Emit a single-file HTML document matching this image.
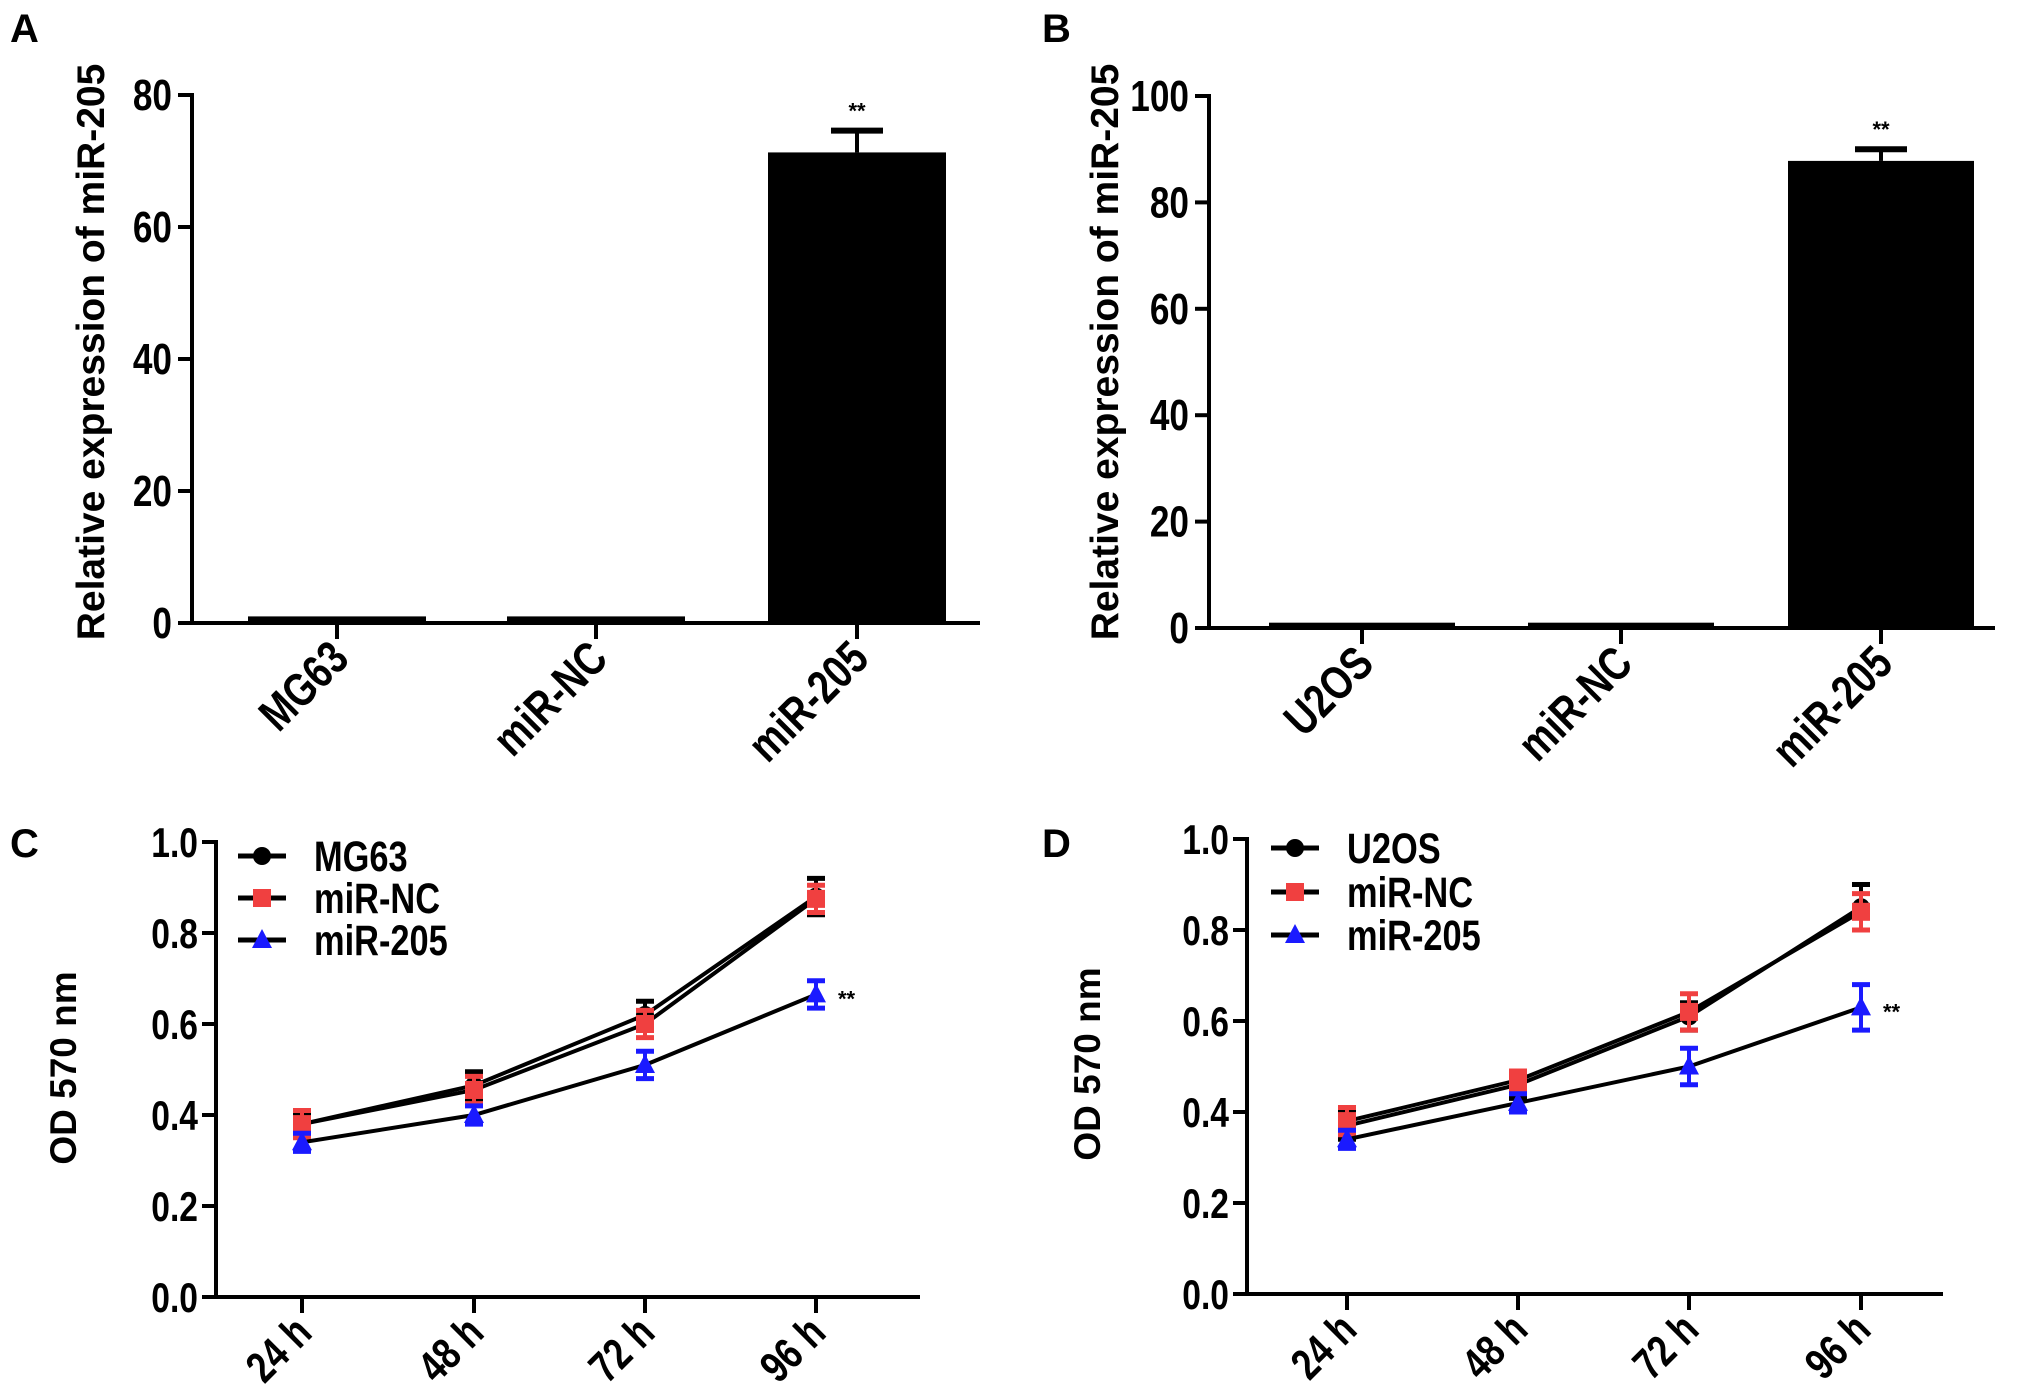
<!DOCTYPE html>
<html><head><meta charset="utf-8"><style>
html,body{margin:0;padding:0;background:#fff;}
svg{display:block;}
text{font-family:"Liberation Sans",Arial,sans-serif;font-weight:bold;fill:#000;}
</style></head><body>
<svg id="fig" width="2031" height="1400" viewBox="0 0 2031 1400" xmlns="http://www.w3.org/2000/svg"></svg>
<script>
const catsA = ["MG63","miR-NC","miR-205"];
const valsA = [1, 1, 71.3];
const errA = [0, 0, 3.3];
const ticksA = [0,20,40,60,80];
const catsB = ["U2OS","miR-NC","miR-205"];
const valsB = [1, 1, 87.8];
const errB = [0, 0, 2.2];
const ticksB = [0,20,40,60,80,100];
const timeCats = ["24 h","48 h","72 h","96 h"];
const ticksLine = [0,0.2,0.4,0.6,0.8,1.0];
const cCtrl = [0.38,0.465,0.62,0.88];
const cCtrlErr = [0.02,0.03,0.03,0.04];
const cNC = [0.38,0.455,0.60,0.875];
const cNCErr = [0.03,0.03,0.03,0.03];
const c205 = [0.34,0.40,0.51,0.665];
const c205Err = [0.02,0.02,0.03,0.03];
const dCtrl = [0.37,0.46,0.61,0.85];
const dCtrlErr = [0.03,0.03,0.03,0.05];
const dNC = [0.38,0.47,0.62,0.84];
const dNCErr = [0.03,0.02,0.04,0.04];
const d205 = [0.34,0.42,0.50,0.63];
const d205Err = [0.02,0.02,0.04,0.05];

const NS="http://www.w3.org/2000/svg";
const svg=document.getElementById('fig');
function el(tag,attrs,parent,txt){const e=document.createElementNS(NS,tag);for(const k in attrs)e.setAttribute(k,attrs[k]);if(txt!==undefined)e.textContent=txt;(parent||svg).appendChild(e);return e;}
function ntext(parent,txt,x,y,size,anchor,rot){
  const tr=`translate(${x} ${y})`+(rot?` rotate(${rot})`:'')+' scale(0.8 1)';
  return el('text',{x:0,y:0,'font-size':size,'text-anchor':anchor,transform:tr},parent,txt);
}

function letter(t,x,y){
  const e=el('text',{x:x,y:y,'font-size':40},svg,t);
  
  
}
function ytitle(t,x,cy,size,name){
  const e=el('text',{x:x,y:cy,'font-size':size,'text-anchor':'middle',transform:`rotate(-90 ${x} ${cy})`},svg,t);
  
  
}

function barPanel(o){
  const g=el('g',{});
  
  
  const ys=v=>o.y0-(v/o.ymax)*(o.y0-o.ytop);
  const xs=i=>o.tx[i];
  o.ticks.forEach(t=>{
    el('line',{x1:o.ax-14,x2:o.ax,y1:ys(t),y2:ys(t),stroke:'#000','stroke-width':4},g);
    const tl=ntext(g,String(t),o.ax-20,ys(t)+15,44,'end');
    
    
  });
  o.cats.forEach((c,i)=>{
    const x=xs(i),w=o.bw,top=ys(o.vals[i]);
    const b=el('rect',{x:x-w/2,y:top,width:w,height:o.y0-top,fill:'#000'},g);
    
    
    if(o.err[i]>0){
      const et=ys(o.vals[i]+o.err[i]);
      el('line',{x1:x,x2:x,y1:top,y2:et,stroke:'#000','stroke-width':4},g);
      el('line',{x1:x-26,x2:x+26,y1:et,y2:et,stroke:'#000','stroke-width':6},g);
      const s=el('text',{x:x,y:et-12,'text-anchor':'middle','font-size':22},g,'**');
      
      
    }
    el('line',{x1:x,x2:x,y1:o.y0,y2:o.y0+16,stroke:'#000','stroke-width':4},g);
    const t=ntext(g,c,x+14,o.y0+38,47,'end',-45);
    
    
  });
  el('line',{x1:o.ax,x2:o.ax,y1:o.ytop-2,y2:o.y0+2,stroke:'#000','stroke-width':4},g);
  el('line',{x1:o.ax-2,x2:o.xend,y1:o.y0,y2:o.y0,stroke:'#000','stroke-width':4},g);
}

function marker(g,shape,x,y,color){
  if(shape==='circle')el('circle',{cx:x,cy:y,r:9,fill:color},g);
  else if(shape==='square')el('rect',{x:x-9,y:y-9,width:18,height:18,fill:color},g);
  else el('path',{d:`M${x} ${y-11}L${x+10} ${y+8}L${x-10} ${y+8}Z`,fill:color},g);
}

function linePanel(o){
  const g=el('g',{});
  
  
  const ys=v=>o.y0-(v/1.0)*(o.y0-o.ytop);
  const xs=i=>o.tx[i];
  ticksLine.forEach(t=>{
    el('line',{x1:o.ax-14,x2:o.ax,y1:ys(t),y2:ys(t),stroke:'#000','stroke-width':4},g);
    const tl=ntext(g,t.toFixed(1),o.ax-18,ys(t)+15,42,'end');
    
    
  });
  timeCats.forEach((c,i)=>{
    const x=xs(i);
    el('line',{x1:x,x2:x,y1:o.y0,y2:o.y0+16,stroke:'#000','stroke-width':4},g);
    const t=ntext(g,c,x+12,o.y0+38,44,'end',-45);
    
    
  });
  o.series.forEach(s=>{
    const sg=el('g',{},g);
    
    
    const pts=s.vals.map((v,i)=>xs(i)+','+ys(v)).join(' ');
    el('polyline',{points:pts,fill:'none',stroke:'#000','stroke-width':4},sg);
    s.vals.forEach((v,i)=>{
      const x=xs(i),hi=ys(v+s.err[i]),lo=ys(v-s.err[i]);
      el('line',{x1:x,x2:x,y1:hi,y2:lo,stroke:s.ecol,'stroke-width':4},sg);
      el('line',{x1:x-9,x2:x+9,y1:hi,y2:hi,stroke:s.ecol,'stroke-width':5},sg);
      el('line',{x1:x-9,x2:x+9,y1:lo,y2:lo,stroke:s.ecol,'stroke-width':5},sg);
      marker(sg,s.shape,x,ys(v),s.color);
    });
  });
  const s3=o.series[2];const li=s3.vals.length-1;
  const st=el('text',{x:xs(li)+22,y:ys(s3.vals[li])+12,'font-size':22},g,'**');
  
  
  el('line',{x1:o.ax,x2:o.ax,y1:o.ytop-2,y2:o.y0+2,stroke:'#000','stroke-width':4},g);
  el('line',{x1:o.ax-2,x2:o.xend,y1:o.y0,y2:o.y0,stroke:'#000','stroke-width':4},g);
  const lg=el('g',{},g);
  
  
  o.series.forEach((s,i)=>{
    const y=o.legY[i];
    const le=el('g',{},lg);
    
    
    el('line',{x1:o.legX-24,x2:o.legX+24,y1:y,y2:y,stroke:'#000','stroke-width':5},le);
    marker(le,s.shape,o.legX,y,s.color);
    ntext(le,s.label,o.legX+52,y+15,43,'start');
  });
}

letter('A',10,42); letter('B',1042,42); letter('C',10,857); letter('D',1042,857);
ytitle('Relative expression of miR-205',104,352,39,'y-axis-title-a');
ytitle('Relative expression of miR-205',1118,352,39,'y-axis-title-b');
ytitle('OD 570 nm',76,1068,37,'y-axis-title-c');
ytitle('OD 570 nm',1100,1064,37,'y-axis-title-d');

barPanel({name:'panel-a-bar-chart',cats:catsA,vals:valsA,err:errA,ticks:ticksA,ymax:80,ax:192,ytop:95,y0:623,xend:980,tx:[337,596,857],bw:178});
barPanel({name:'panel-b-bar-chart',cats:catsB,vals:valsB,err:errB,ticks:ticksB,ymax:100,ax:1209,ytop:96,y0:628,xend:1995,tx:[1362,1621,1881],bw:186});
linePanel({name:'panel-c-line-chart',ax:216,ytop:842,y0:1297,xend:920,tx:[302,474,645,816],legX:262,legY:[856,898,940],
  series:[{label:'MG63',vals:cCtrl,err:cCtrlErr,shape:'circle',color:'#000',ecol:'#000'},
          {label:'miR-NC',vals:cNC,err:cNCErr,shape:'square',color:'#f04040',ecol:'#f04040'},
          {label:'miR-205',vals:c205,err:c205Err,shape:'tri',color:'#1a1aff',ecol:'#1a1aff'}]});
linePanel({name:'panel-d-line-chart',ax:1247,ytop:839,y0:1294,xend:1943,tx:[1347,1518,1689,1861],legX:1295,legY:[848,892,935],
  series:[{label:'U2OS',vals:dCtrl,err:dCtrlErr,shape:'circle',color:'#000',ecol:'#000'},
          {label:'miR-NC',vals:dNC,err:dNCErr,shape:'square',color:'#f04040',ecol:'#f04040'},
          {label:'miR-205',vals:d205,err:d205Err,shape:'tri',color:'#1a1aff',ecol:'#1a1aff'}]});
</script>
</body></html>
